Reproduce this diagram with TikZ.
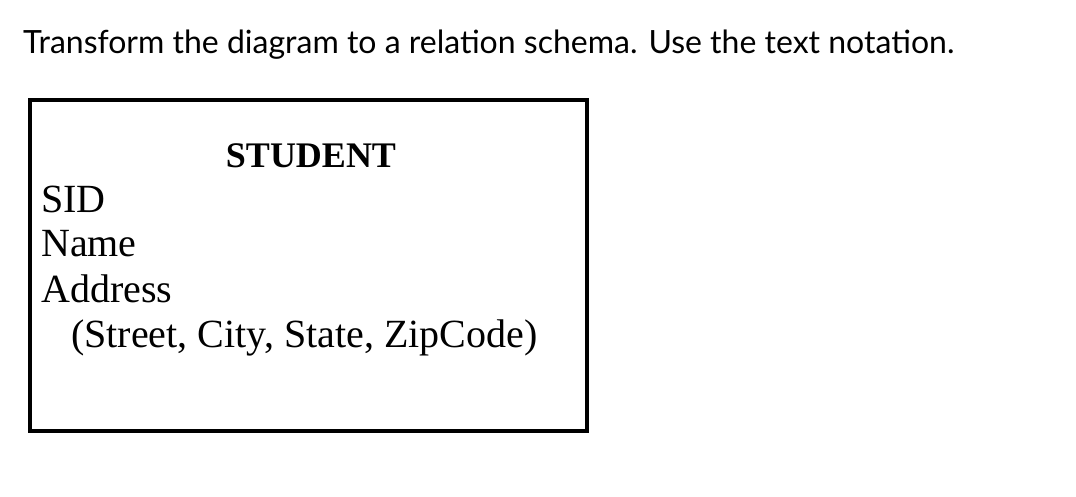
\documentclass[tikz,border=0pt]{standalone}
\usepackage{fontspec}
\newfontfamily\questionfont{Lato}
\newfontfamily\tablefont{Liberation Serif}
\begin{document}
\begin{tikzpicture}[x=1pt,y=-1pt,
        attr/.style={anchor=base west,inner sep=0pt,font=\tablefont\fontsize{40}{45}\selectfont}]
        \useasboundingbox (0,0) rectangle (1076,496);

        \node[anchor=base west,inner sep=0pt,font=\questionfont\fontsize{32}{38}\selectfont] (question) at (23,53) {Transform the diagram to a relation schema. Use the text notation.};

        \draw[line width=4.5pt] (30,100) rectangle (587,431);
        \node[anchor=base,inner sep=0pt,font=\tablefont\bfseries\fontsize{36}{42}\selectfont] (entity) at (311,167) {STUDENT};

        \node[attr] (sid) at (41,212) {SID};
        \node[attr] (name) at (41,256) {Name};
        \node[attr] (address) at (41,302) {Address};
        \node[attr] (parts) at (71,347) {(Street, City, State, ZipCode)};

    \end{tikzpicture}
\end{document}
